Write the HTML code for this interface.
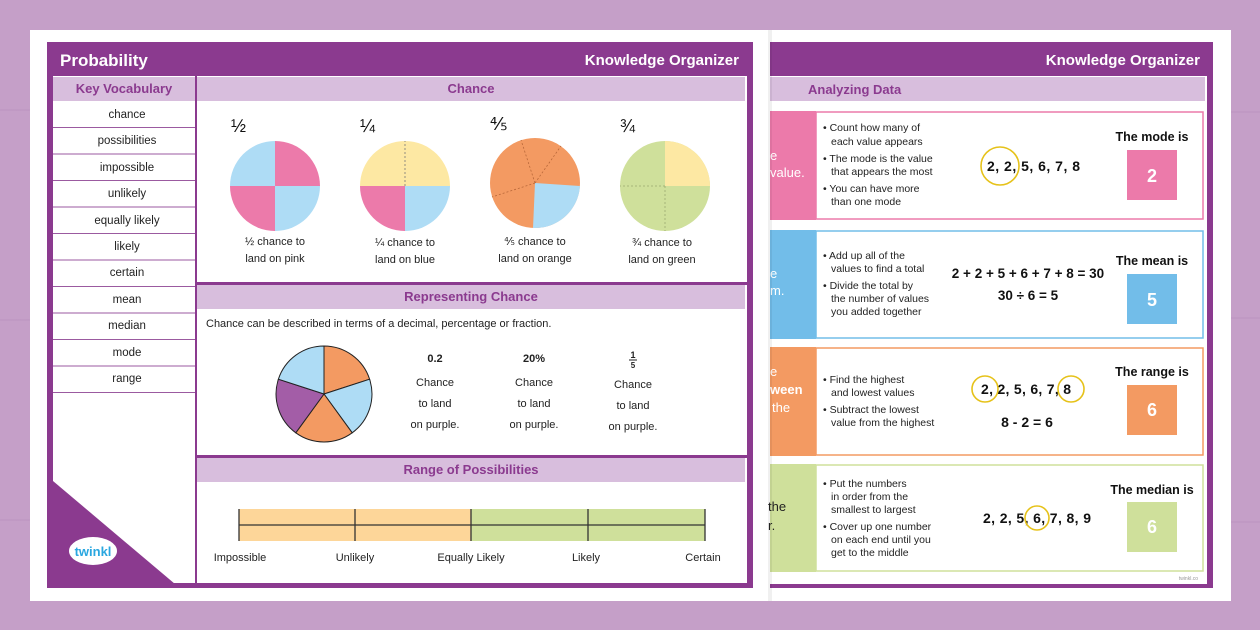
<!DOCTYPE html>
<html><head><meta charset="utf-8"><style>
body{margin:0;width:1260px;height:630px;overflow:hidden;background:#c6a0c9;}
svg{display:block;font-family:"Liberation Sans",sans-serif;}
</style></head><body>
<svg width="1260" height="630" viewBox="0 0 1260 630">
<rect width="1260" height="630" fill="#c59fc8"/>
<g stroke="#b991bd" stroke-width="1.5" opacity=".5"><line x1="0" y1="110" x2="1260" y2="112"/><line x1="0" y1="320" x2="1260" y2="318"/><line x1="0" y1="520" x2="1260" y2="522"/></g>

<!-- RIGHT SHEET -->
<rect x="740" y="30" width="491" height="571" fill="#fff"/>
<rect x="770" y="42" width="443" height="546" fill="#8b3a8f"/>
<rect x="770" y="76" width="437" height="508" fill="#fff"/>
<text x="1200" y="65" fill="#fff" font-size="15" font-weight="bold" text-anchor="end">Knowledge Organizer</text>
<rect x="770" y="77" width="435" height="24" fill="#d8bedd"/>
<text x="808" y="94" fill="#8b3a8f" font-size="13" font-weight="bold">Analyzing Data</text>

<!-- row pink -->
<rect x="770" y="111" width="46" height="109" fill="#ec7aaa"/>
<rect x="816" y="112" width="387" height="107" fill="#fff" stroke="#ec7aaa" stroke-width="1.5"/>
<text x="770" y="160" font-size="13" fill="#fff">e</text><text x="770" y="177" font-size="13" fill="#fff">value.</text>
<g font-size="10.5" fill="#222"><text x="823" y="131">• Count how many of</text><text x="831" y="145">each value appears</text><text x="823" y="162">• The mode is the value</text><text x="831" y="175">that appears the most</text><text x="823" y="192">• You can have more</text><text x="831" y="205">than one mode</text></g>
<text x="987" y="171" font-size="14" font-weight="bold" fill="#111" textLength="93" lengthAdjust="spacing">2, 2, 5, 6, 7, 8</text>
<circle cx="1000" cy="166" r="19" fill="none" stroke="#e6c21a" stroke-width="1.6"/>
<text x="1152" y="141" font-size="12.5" font-weight="bold" text-anchor="middle" fill="#111">The mode is</text>
<rect x="1127" y="150" width="50" height="50" fill="#ec7aaa"/>
<text x="1152" y="182" font-size="18" font-weight="bold" fill="#fff" text-anchor="middle">2</text>

<!-- row blue -->
<rect x="770" y="230" width="46" height="109" fill="#72bde9"/>
<rect x="816" y="231" width="387" height="107" fill="#fff" stroke="#72bde9" stroke-width="1.5"/>
<text x="770" y="278" font-size="13" fill="#fff">e</text><text x="770" y="295" font-size="13" fill="#fff">m.</text>
<g font-size="10.5" fill="#222"><text x="823" y="259">• Add up all of the</text><text x="831" y="272">values to find a total</text><text x="823" y="289">• Divide the total by</text><text x="831" y="302">the number of values</text><text x="831" y="315">you added together</text></g>
<text x="1028" y="278" font-size="13.5" font-weight="bold" fill="#111" text-anchor="middle">2 + 2 + 5 + 6 + 7 + 8 = 30</text>
<text x="1028" y="300" font-size="13.5" font-weight="bold" fill="#111" text-anchor="middle">30 ÷ 6 = 5</text>
<text x="1152" y="265" font-size="12.5" font-weight="bold" text-anchor="middle" fill="#111">The mean is</text>
<rect x="1127" y="274" width="50" height="50" fill="#72bde9"/>
<text x="1152" y="306" font-size="18" font-weight="bold" fill="#fff" text-anchor="middle">5</text>

<!-- row orange -->
<rect x="770" y="347" width="46" height="109" fill="#f39a62"/>
<rect x="816" y="348" width="387" height="107" fill="#fff" stroke="#f39a62" stroke-width="1.5"/>
<text x="770" y="376" font-size="13" fill="#fff">e</text><text x="770" y="394" font-size="13" font-weight="bold" fill="#fff">ween</text><text x="772" y="412" font-size="13" fill="#fff">the</text>
<g font-size="10.5" fill="#222"><text x="823" y="383">• Find the highest</text><text x="831" y="396">and lowest values</text><text x="823" y="413">• Subtract the lowest</text><text x="831" y="426">value from the highest</text></g>
<text x="981" y="394" font-size="14" font-weight="bold" fill="#111" textLength="90" lengthAdjust="spacing">2, 2, 5, 6, 7, 8</text>
<circle cx="985" cy="389" r="13" fill="none" stroke="#e6c21a" stroke-width="1.6"/>
<circle cx="1071" cy="389" r="13" fill="none" stroke="#e6c21a" stroke-width="1.6"/>
<text x="1027" y="427" font-size="14" font-weight="bold" fill="#111" text-anchor="middle">8 - 2 = 6</text>
<text x="1152" y="376" font-size="12.5" font-weight="bold" text-anchor="middle" fill="#111">The range is</text>
<rect x="1127" y="385" width="50" height="50" fill="#f39a62"/>
<text x="1152" y="416" font-size="18" font-weight="bold" fill="#fff" text-anchor="middle">6</text>

<!-- row green -->
<rect x="770" y="464" width="46" height="108" fill="#cfe09b"/>
<rect x="816" y="465" width="387" height="106" fill="#fff" stroke="#cfe09b" stroke-width="1.5"/>
<text x="768" y="511" font-size="13" fill="#222">the</text><text x="768" y="530" font-size="13" fill="#222">r.</text>
<g font-size="10.5" fill="#222"><text x="823" y="487">• Put the numbers</text><text x="831" y="500">in order from the</text><text x="831" y="513">smallest to largest</text><text x="823" y="530">• Cover up one number</text><text x="831" y="543">on each end until you</text><text x="831" y="556">get to the middle</text></g>
<text x="983" y="523" font-size="14" font-weight="bold" fill="#111" textLength="108" lengthAdjust="spacing">2, 2, 5, 6, 7, 8, 9</text>
<circle cx="1037" cy="518" r="12" fill="none" stroke="#e6c21a" stroke-width="1.6"/>
<text x="1152" y="494" font-size="12.5" font-weight="bold" text-anchor="middle" fill="#111">The median is</text>
<rect x="1127" y="502" width="50" height="50" fill="#cfe09b"/>
<text x="1152" y="533" font-size="18" font-weight="bold" fill="#fff" text-anchor="middle">6</text>
<text x="1198" y="580" font-size="5" fill="#999" text-anchor="end">twinkl.co</text>

<!-- LEFT SHEET -->
<rect x="766" y="30" width="6" height="571" fill="#000" opacity=".06"/>
<rect x="30" y="30" width="738" height="571" fill="#fff"/>
<rect x="47" y="42" width="706" height="546" fill="#8b3a8f"/>
<text x="60" y="66" fill="#fff" font-size="17" font-weight="bold">Probability</text>
<text x="739" y="65" fill="#fff" font-size="15" font-weight="bold" text-anchor="end">Knowledge Organizer</text>
<rect x="53" y="76" width="142" height="507" fill="#fff"/>
<rect x="53" y="77" width="142" height="24" fill="#d8bedd"/>
<text x="124" y="93" fill="#8b3a8f" font-size="13" font-weight="bold" text-anchor="middle">Key Vocabulary</text>
<g stroke="#9b5aa0" stroke-width="1">
<line x1="53" y1="127.5" x2="195" y2="127.5"/><line x1="53" y1="154" x2="195" y2="154"/><line x1="53" y1="180.5" x2="195" y2="180.5"/><line x1="53" y1="207" x2="195" y2="207"/><line x1="53" y1="233.5" x2="195" y2="233.5"/><line x1="53" y1="260" x2="195" y2="260"/><line x1="53" y1="286.5" x2="195" y2="286.5"/><line x1="53" y1="313" x2="195" y2="313"/><line x1="53" y1="339.5" x2="195" y2="339.5"/><line x1="53" y1="366" x2="195" y2="366"/><line x1="53" y1="392.5" x2="195" y2="392.5"/></g>
<g font-size="11.5" fill="#222" text-anchor="middle">
<text x="127" y="118">chance</text><text x="127" y="144">possibilities</text><text x="127" y="171">impossible</text><text x="127" y="197">unlikely</text><text x="127" y="224">equally likely</text><text x="127" y="250">likely</text><text x="127" y="276">certain</text><text x="127" y="303">mean</text><text x="127" y="329">median</text><text x="127" y="356">mode</text><text x="127" y="382">range</text></g>
<polygon points="53,481 175,584 53,584" fill="#8b3a8f"/>
<ellipse cx="93" cy="551" rx="24" ry="14" fill="#fff"/>
<text x="93" y="556" font-size="13" font-weight="bold" fill="#2aa7e0" text-anchor="middle">twinkl</text>

<rect x="197" y="76" width="550" height="507" fill="#fff"/>
<rect x="197" y="77" width="548" height="24" fill="#d8bedd"/>
<text x="471" y="93" fill="#8b3a8f" font-size="13" font-weight="bold" text-anchor="middle">Chance</text>
<rect x="197" y="282" width="550" height="3" fill="#8b3a8f"/>
<rect x="197" y="285" width="548" height="24" fill="#d8bedd"/>
<text x="471" y="301" fill="#8b3a8f" font-size="13" font-weight="bold" text-anchor="middle">Representing Chance</text>
<rect x="197" y="455" width="550" height="3" fill="#8b3a8f"/>
<rect x="197" y="458" width="548" height="24" fill="#d8bedd"/>
<text x="471" y="474" fill="#8b3a8f" font-size="13" font-weight="bold" text-anchor="middle">Range of Possibilities</text>

<g font-size="18" fill="#111"><text x="231" y="132">½</text><text x="360" y="132">¼</text><text x="490" y="130">⅘</text><text x="620" y="132">¾</text></g>
<g transform="translate(275,186)">
<path d="M0 0V-45A45 45 0 0 1 45 0Z" fill="#ec7aaa"/><path d="M0 0H45A45 45 0 0 1 0 45Z" fill="#aedcf5"/>
<path d="M0 0V45A45 45 0 0 1 -45 0Z" fill="#ec7aaa"/><path d="M0 0H-45A45 45 0 0 1 0 -45Z" fill="#aedcf5"/></g>
<g transform="translate(405,186)">
<path d="M45 0A45 45 0 0 0 -45 0Z" fill="#fde8a3"/><path d="M0 0H45A45 45 0 0 1 0 45Z" fill="#aedcf5"/>
<path d="M0 0V45A45 45 0 0 1 -45 0Z" fill="#ec7aaa"/><line x1="0" y1="0" x2="0" y2="-45" stroke="#777" stroke-dasharray="2,2" stroke-width=".8"/></g>
<g transform="translate(535,183)">
<circle r="45" fill="#f39a62"/><path d="M0 0L45 3A45 45 0 0 1 -2 45Z" fill="#aedcf5"/>
<g stroke="#b8683a" stroke-width=".8" stroke-dasharray="2,2"><line x1="0" y1="0" x2="-14" y2="-43"/><line x1="0" y1="0" x2="26" y2="-37"/><line x1="0" y1="0" x2="-43" y2="14"/></g></g>
<g transform="translate(665,186)">
<circle r="45" fill="#cfe09b"/><path d="M0 0V-45A45 45 0 0 1 45 0Z" fill="#fde8a3"/>
<g stroke="#9aa870" stroke-width=".8" stroke-dasharray="2,2"><line x1="0" y1="0" x2="0" y2="45"/><line x1="0" y1="0" x2="-45" y2="0"/></g></g>
<g font-size="11" fill="#222" text-anchor="middle">
<text x="275" y="245">½ chance to</text><text x="275" y="262">land on pink</text>
<text x="405" y="246">¼ chance to</text><text x="405" y="263">land on blue</text>
<text x="535" y="245">⅘ chance to</text><text x="535" y="262">land on orange</text>
<text x="662" y="246">¾ chance to</text><text x="662" y="263">land on green</text></g>

<text x="206" y="327" font-size="11" fill="#222">Chance can be described in terms of a decimal, percentage or fraction.</text>
<g transform="translate(324,394)" stroke="#222" stroke-width="1">
<path d="M0 0L0 -48A48 48 0 0 1 45.6 -14.8Z" fill="#f39a62"/>
<path d="M0 0L45.6 -14.8A48 48 0 0 1 28.2 38.8Z" fill="#aedcf5"/>
<path d="M0 0L28.2 38.8A48 48 0 0 1 -28.2 38.8Z" fill="#f39a62"/>
<path d="M0 0L-28.2 38.8A48 48 0 0 1 -45.6 -14.8Z" fill="#a35da7"/>
<path d="M0 0L-45.6 -14.8A48 48 0 0 1 0 -48Z" fill="#aedcf5"/></g>
<g font-size="11" fill="#222" text-anchor="middle">
<text x="435" y="362" font-weight="bold">0.2</text><text x="435" y="386">Chance</text><text x="435" y="407">to land</text><text x="435" y="428">on purple.</text>
<text x="534" y="362" font-weight="bold">20%</text><text x="534" y="386">Chance</text><text x="534" y="407">to land</text><text x="534" y="428">on purple.</text>
<text x="633" y="358" font-size="9" font-weight="bold">1</text><line x1="629" y1="360" x2="637" y2="360" stroke="#222"/><text x="633" y="368" font-size="8" font-weight="bold">5</text>
<text x="633" y="388">Chance</text><text x="633" y="409">to land</text><text x="633" y="430">on purple.</text></g>

<rect x="239" y="509" width="232" height="32" fill="#fdd699"/>
<rect x="471" y="509" width="234" height="32" fill="#cfe09b"/>
<g stroke="#333" stroke-width="1.3"><line x1="239" y1="525" x2="705" y2="525"/>
<line x1="239" y1="509" x2="239" y2="541"/><line x1="355" y1="509" x2="355" y2="541"/><line x1="471" y1="509" x2="471" y2="541"/><line x1="588" y1="509" x2="588" y2="541"/><line x1="705" y1="509" x2="705" y2="541"/></g>
<g font-size="11" fill="#222" text-anchor="middle">
<text x="240" y="561">Impossible</text><text x="355" y="561">Unlikely</text><text x="471" y="561">Equally Likely</text><text x="586" y="561">Likely</text><text x="703" y="561">Certain</text></g>
</svg>
</body></html>
